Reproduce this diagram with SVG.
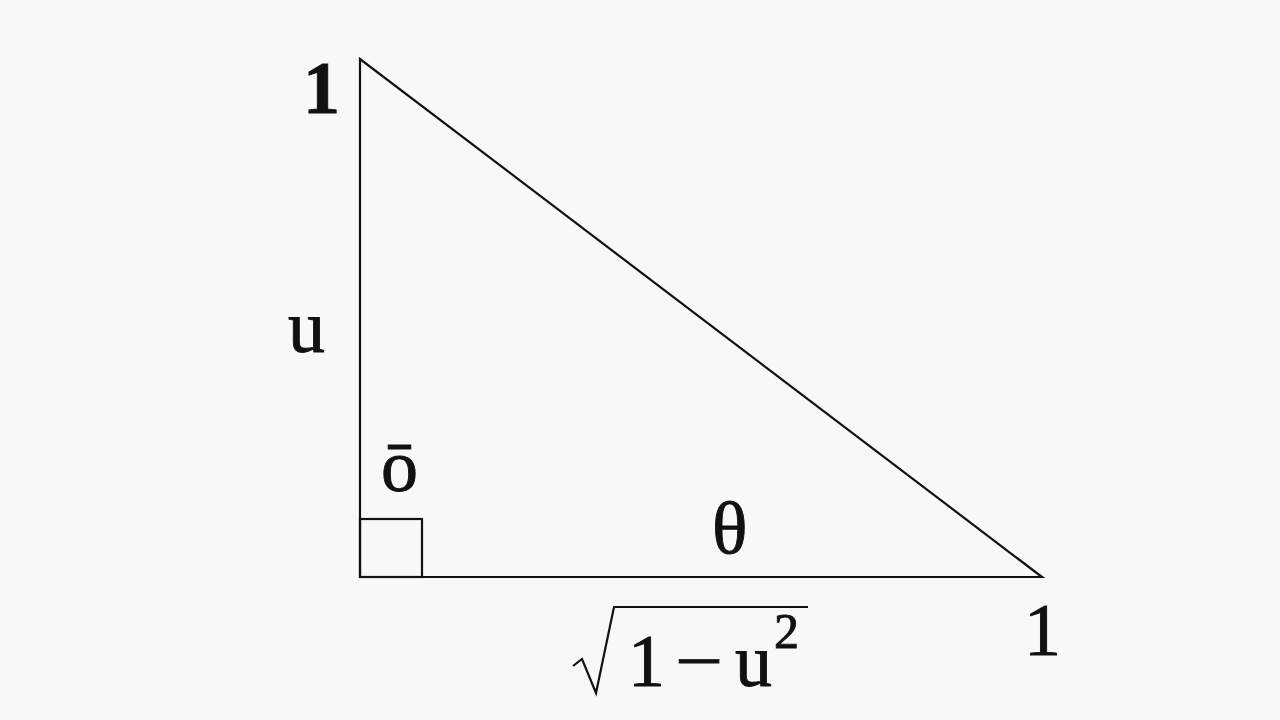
<svg xmlns="http://www.w3.org/2000/svg" width="1280" height="720" viewBox="0 0 1280 720">
<style>
.l{fill:none;stroke:#111;stroke-width:2.2}
.t{font-family:"Liberation Serif","DejaVu Serif",serif;fill:#111;font-size:74px;stroke:#111;stroke-width:0.9}
</style>
<rect width="1280" height="720" fill="#f8f8f8"/>
<g id="triangle">
<polygon class="l" points="360,59 360,577 1042,577"/>
<rect class="l" x="360" y="519" width="62" height="58"/>
</g>
<g id="labels">
<text class="t" x="303" y="113" font-weight="bold">1</text>
<text class="t" x="288" y="352">u</text>
<text class="t" x="381" y="491">ō</text>
<text class="t" x="712" y="553">θ</text>
<text class="t" x="1024" y="655">1</text>
<path class="l" d="M573,666 L582,659 L596,693 L614,607 L808,607" stroke-width="3"/>
<text class="t" x="628" y="686">1</text>
<text class="t" transform="translate(675,686) scale(1.15,1)" x="0" y="0" font-size="74">−</text>
<text class="t" x="735" y="686">u<tspan font-size="50" dy="-38" dx="2">2</tspan></text>
</g>
</svg>
